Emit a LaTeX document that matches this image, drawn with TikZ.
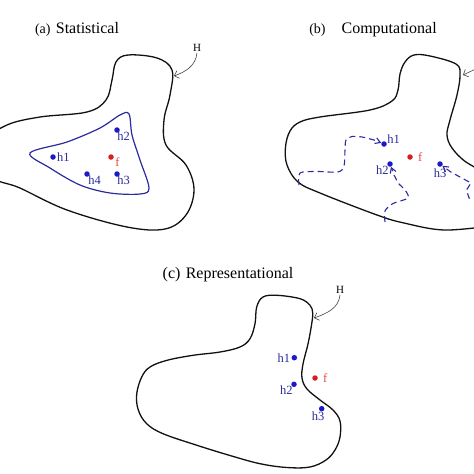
\documentclass[tikz,border=0pt]{standalone}
\usepackage{fontspec}
\setmainfont{Liberation Serif}
\usetikzlibrary{arrows.meta,positioning}
\definecolor{hypblue}{HTML}{1A1AC8}
\definecolor{hypnavy}{HTML}{2B2B9E}
\definecolor{hypred}{HTML}{D81E1E}
\definecolor{hypink}{HTML}{111111}
\tikzset{
  hspace/.style={draw=hypink, line width=1.3pt},
  region/.style={draw=hypnavy, line width=1.2pt},
  dot/.style={circle, fill=hypblue, inner sep=0pt, minimum size=5.5pt},
  tdot/.style={dot, fill=hypred},
  lbl/.style={font=\fontsize{12.5}{12.5}\selectfont, text=hypnavy, inner sep=1pt},
  flbl/.style={lbl, text=hypred!80},
  ttl/.style={font=\fontsize{16}{16}\selectfont, inner sep=0pt},
  hlbl/.style={font=\fontsize{11}{11}\selectfont, inner sep=1pt},
  parr/.style={-{Straight Barb[length=4pt]}, draw=hypink!80, line width=0.6pt},
  walk/.style={draw=hypnavy, line width=1.1pt, dash pattern=on 6pt off 4pt},
  wtip/.style={-{Straight Barb[length=5pt,width=6pt]}, walk},
}
\begin{document}
\begin{tikzpicture}[x=1pt,y=-1pt]
  \useasboundingbox (0,0) rectangle (474,474);
  \clip (0,0) rectangle (474,474);

  % (a) statistical
  \node[ttl] (ta) at (77,29) {{\fontsize{14}{14}\selectfont(a)}\,\,Statistical};
  \draw[hspace] plot[smooth cycle, tension=0.6] coordinates {
    (-10,140) (7,125) (40,117) (87,112) (106,100) (112,80) (116,62) (128,55)
    (157,58) (172,70) (170,95) (164,120) (166,145) (186,165) (194,190)
    (186,215) (165,229) (127,227) (67,210) (20,188) (-10,175)};
  \draw[region] plot[smooth cycle, tension=0.55] coordinates {
    (30,153) (67,142) (100,128) (120,115) (129,114) (132,135) (140,160)
    (149,188) (140,194) (110,193) (80,185) (50,168)};
  \node[dot] (a1) at (53,157) {};
  \node[dot] (a2) at (117,130) {};
  \node[tdot] (af) at (111,157) {};
  \node[dot] (a3) at (117,174) {};
  \node[dot] (a4) at (87,174) {};
  \node[lbl, right=0pt of a1] {h1};
  \node[lbl, below right=-1pt and -3pt of a2] {h2};
  \node[flbl, below right=-3pt and 1pt of af] {f};
  \node[lbl, below right=-1pt and -3pt of a3] {h3};
  \node[lbl, below right=-1pt and -2pt of a4] {h4};
  \node[hlbl] (ha) at (197,48) {H};
  \coordinate (ea) at (174,76);
  \draw[parr] (ha.south) to[out=-95, in=20] (ea);

  % (b) computational
  \node[ttl] (tb) at (373,30) {{\fontsize{14}{14}\selectfont(b)}\quad Computational};
  \draw[hspace] plot[smooth, tension=0.6] coordinates {
    (490,175) (466,162) (452,148) (447,135) (450,120) (457,95) (460,75)
    (456,64) (430,56) (414,55) (405,62) (400,74) (398,90) (392,101)
    (370,110) (320,117) (300,122) (290,131) (285.5,147) (287,165)
    (298,182) (320,193) (377,215) (404,223) (444,230) (490,226)};
  \node[dot] (b1) at (384,144) {};
  \node[dot] (b2) at (390,164) {};
  \node[tdot] (bf) at (410,157) {};
  \node[dot] (b3) at (440,164) {};
  \node[lbl, above right=-3pt and 0pt of b1] {h1};
  \node[lbl, below left=-1pt and -2pt of b2] {h2};
  \node[flbl, right=4pt of bf] {f};
  \node[lbl, below=1pt of b3] {h3};
  \coordinate (s1) at (299,185);
  \coordinate (s2) at (385,222);
  \coordinate (s3) at (480,199);
  \draw[wtip] plot[smooth, tension=0.5] coordinates {
    (s1) (300,173) (317,171.5) (338,172) (344,166) (345,150) (346,140)
    (352,136.5) (362,137) (374,140)} -- (b1);
  \draw[wtip] plot[smooth, tension=0.5] coordinates {
    (s2) (385,211) (393,203.5) (408,198) (405,190) (399,184) (394,175)} -- (b2);
  \draw[wtip] (s3) -- (469,198) -- (466.5,190) -- (471,183)
    -- (460,177) -- (450,171.5) -- (b3);
  \coordinate (eb) at (463,75);
  \draw[parr] (480,67) -- (eb);

  % (c) representational
  \node[ttl] (tc) at (228,275) {(c)\,\,Representational};
  \draw[hspace] plot[smooth cycle, tension=0.6] coordinates {
    (263,297) (277,295.3) (300,298.7) (310,305.3) (312.7,313) (311.5,325)
    (308,344) (303,364) (302,378) (307,389) (320,400) (333,410) (340,421)
    (340,437) (335,450) (326,460) (310,467) (287,467.5) (260,463.7)
    (230,455.5) (197,445.3) (163,433.7) (146.7,423.7) (138.3,410)
    (136.7,394) (141.7,377) (150,367) (167,360.3) (193,355.3) (220,352)
    (240,347) (250,338.7) (255,323.7) (256.7,307)};
  \node[dot] (c1) at (294.3,357.7) {};
  \node[tdot] (cf) at (315,378) {};
  \node[dot] (c2) at (294,384.3) {};
  \node[dot] (c3) at (321.7,408.7) {};
  \node[lbl, left=0pt of c1] {h1};
  \node[flbl, right=4pt of cf] {f};
  \node[lbl, below left=-2pt and -2pt of c2] {h2};
  \node[lbl, below left=0pt and -6pt of c3] {h3};
  \node[hlbl] (hc) at (340,290) {H};
  \coordinate (ec) at (314,318);
  \draw[parr] (hc.south) to[out=-95, in=20] (ec);
\end{tikzpicture}
\end{document}
